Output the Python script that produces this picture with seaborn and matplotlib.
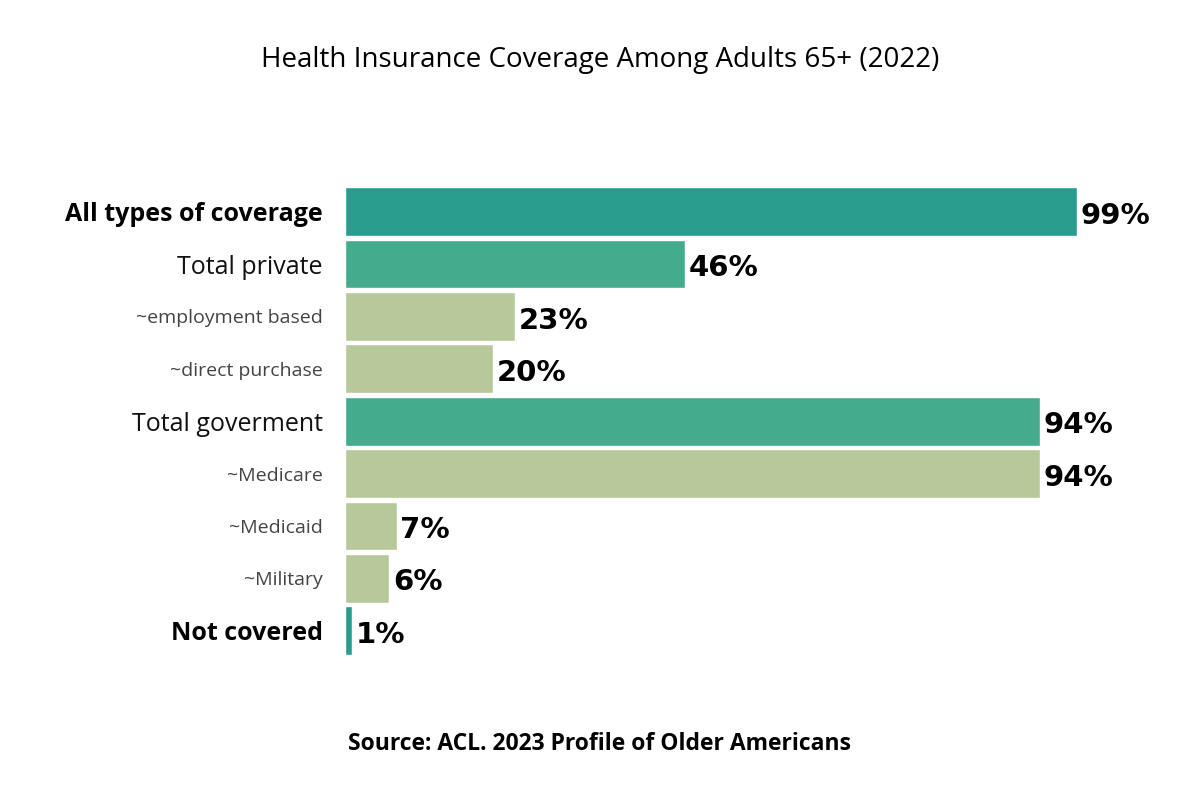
import matplotlib
matplotlib.use("Agg")
import matplotlib.pyplot as plt
import seaborn as sns
import pandas as pd

categories = ["All types of coverage", "Total private", "~employment based", "~direct purchase",
              "Total goverment", "~Medicare", "~Medicaid", "~Military", "Not covered"]
values = [99, 46, 23, 20, 94, 94, 7, 6, 1]
levels = ["top", "main", "sub", "sub", "main", "sub", "sub", "sub", "top"]
value_labels = ["99%", "46%", "23%", "20%", "94%", "94%", "7%", "6%", "1%"]

palette = {"top": "#2a9d8f", "main": "#45ab8d", "sub": "#b7c99b"}
df = pd.DataFrame({"cat": categories, "val": values, "lvl": levels})

sns.set_theme(style="white")
plt.rcParams['font.family'] = ['Open Sans', 'DejaVu Sans']
fig = plt.figure(figsize=(12, 8), dpi=100)
ax = fig.add_axes([0.2875, 0.179, 0.616, 0.589])
sns.barplot(data=df, x="val", y="cat", hue="lvl", palette=palette, dodge=False,
            width=0.93, legend=False, ax=ax, orient="h", saturation=1)
ax.set_xlim(0, 100)
ax.set_ylim(8.5, -0.5)
for s in ax.spines.values():
    s.set_visible(False)
ax.set_xticks([])
ax.set_xlabel("")
ax.set_ylabel("")
ax.tick_params(axis="y", length=0, pad=16)
ax.set_yticks(range(len(categories)))
ax.set_yticklabels(categories)
for t, lvl in zip(ax.get_yticklabels(), levels):
    if lvl == "top":
        t.set_fontsize(18); t.set_fontweight("bold"); t.set_color("black")
    elif lvl == "main":
        t.set_fontsize(18); t.set_color("#111111")
    else:
        t.set_fontsize(14); t.set_color("#444444")
for i, (v, lab) in enumerate(zip(values, value_labels)):
    ax.text(v + 0.5, i + 0.08, lab, va="center", ha="left", fontsize=21,
            fontweight="bold", color="black", family=["DejaVu Sans"])

fig.text(0.5, 0.925, "Health Insurance Coverage Among Adults 65+ (2022)", ha="center",
         va="center", fontsize=20, color="black")
fig.text(0.5, 0.07, "Source: ACL. 2023 Profile of Older Americans", ha="center",
         va="center", fontsize=16.5, fontweight="bold", color="black")
fig.savefig("out.png", dpi=100, facecolor="white")
